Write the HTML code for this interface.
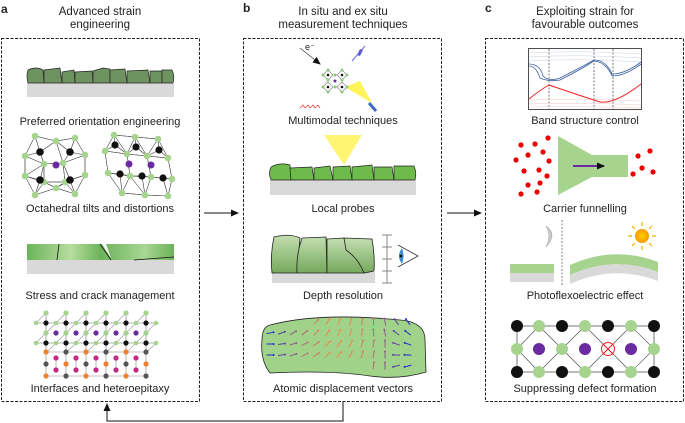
<!DOCTYPE html>
<html><head><meta charset="utf-8"><style>
html,body{margin:0;padding:0;background:#fff}
svg{display:block}
text{font-family:"Liberation Sans",Arial,sans-serif;fill:#222}
</style></head><body>
<svg id="s" width="685" height="423" viewBox="0 0 685 423" xmlns="http://www.w3.org/2000/svg">
<defs>
<marker id="ah" markerWidth="8" markerHeight="8" refX="7" refY="4" orient="auto" markerUnits="userSpaceOnUse"><path d="M0,0.5 L8,4 L0,7.5 Z" fill="#111"/></marker>
<linearGradient id="gcr" x1="0" x2="1"><stop offset="0" stop-color="#6cb35a"/><stop offset="0.3" stop-color="#b7dda0"/><stop offset="0.5" stop-color="#6cb35a"/><stop offset="0.8" stop-color="#a9d694"/><stop offset="1" stop-color="#6cb35a"/></linearGradient>
<linearGradient id="gd" x1="0" y1="0" x2="0" y2="1"><stop offset="0" stop-color="#c4deb0"/><stop offset="1" stop-color="#74a95d"/></linearGradient>
<radialGradient id="sun"><stop offset="0" stop-color="#ffd000"/><stop offset="1" stop-color="#f59a00"/></radialGradient>
</defs>
<g font-size="11.5" text-anchor="middle">
<text x="1" y="13" font-weight="bold" text-anchor="start" font-size="12">a</text>
<text x="100" y="15">Advanced strain</text><text x="100" y="28">engineering</text>
<text x="243" y="12" font-weight="bold" text-anchor="start" font-size="12">b</text>
<text x="343" y="15">In situ and ex situ</text><text x="343" y="28">measurement techniques</text>
<text x="485" y="12" font-weight="bold" text-anchor="start" font-size="12">c</text>
<text x="585" y="15">Exploiting strain for</text><text x="585" y="28">favourable outcomes</text>
</g>
<g fill="none" stroke="#222" stroke-width="1" stroke-dasharray="3,1.5">
<rect x="1.5" y="38.5" width="198" height="363"/>
<rect x="243.5" y="38.5" width="198" height="363"/>
<rect x="485.5" y="38.5" width="198" height="363"/>
</g>
<g stroke="#111" stroke-width="1" fill="none">
<line x1="204" y1="213" x2="238" y2="213" marker-end="url(#ah)"/>
<line x1="447" y1="213" x2="481" y2="213" marker-end="url(#ah)"/>
<polyline points="343,402 343,421 107,421 107,404" marker-end="url(#ah)"/>
</g>
<g font-size="11" text-anchor="middle">
<text x="100" y="125">Preferred orientation engineering</text>
<text x="100" y="212">Octahedral tilts and distortions</text>
<text x="100" y="299">Stress and crack management</text>
<text x="100" y="392">Interfaces and heteroepitaxy</text>
<text x="343" y="124">Multimodal techniques</text>
<text x="343" y="212">Local probes</text>
<text x="343" y="299">Depth resolution</text>
<text x="343" y="392">Atomic displacement vectors</text>
<text x="585" y="124">Band structure control</text>
<text x="585" y="212">Carrier funnelling</text>
<text x="585" y="299">Photoflexoelectric effect</text>
<text x="585" y="392">Suppressing defect formation</text>
</g>
<!-- a1 grains -->
<rect x="27" y="83" width="147" height="14" fill="#d9d9d9"/>
<g fill="#6f9360" stroke="#222" stroke-width="0.7">
<path d="M28,70 Q36,66 43,70 L44,83 L28,83 Q26,76 28,70Z"/><path d="M44,70 L60,68 L62,83 L44,83Z"/><path d="M62,72 L74,70 L75,83 L62,83Z"/><path d="M75,72 L92,71 L93,83 L75,83Z"/><path d="M93,71 L103,68 L110,69 L110,83 L93,83Z"/><path d="M110,70 L125,69 L127,83 L110,83Z"/><path d="M127,71 L148,70 L150,83 L127,83Z"/><path d="M150,71 L162,71 L162,83 L150,83Z"/><path d="M162,70 L172,70 Q175,76 173,83 L162,83Z"/>
</g>
<!-- a3 crack film -->
<rect x="27" y="260" width="147" height="14" fill="#d9d9d9"/>
<rect x="27" y="244" width="147" height="16" fill="url(#gcr)"/>
<path d="M59,244 L57,260 M100,244 L111,260 M134,260 L174,257" stroke="#111" stroke-width="0.8" fill="none"/>
<path d="M102,244 L106,244 L111,258Z" fill="#fff"/>
<!-- b2 -->
<path d="M324,135 L362,135 L344,165Z" fill="#fff35a" opacity="0.85"/>
<rect x="270" y="180" width="146" height="15" fill="#d9d9d9"/>
<g fill="#6dbb4a" stroke="#222" stroke-width="0.7">
<path d="M271,167 Q280,162 290,165 L291,180 L271,180 Q268,173 271,167Z"/><path d="M290,168 L312,167 L314,180 L291,180Z"/><path d="M314,168 L330,166 L333,180 L314,180Z"/><path d="M333,167 L350,166 L352,180 L333,180Z"/><path d="M352,167 L372,165 L374,180 L352,180Z"/><path d="M374,167 L392,167 L394,180 L374,180Z"/><path d="M394,166 L414,166 Q417,173 415,180 L394,180Z"/>
</g>
<!-- b3 depth -->
<rect x="272" y="272" width="103" height="11" fill="#d9d9d9"/>
<g fill="url(#gd)" stroke="#222" stroke-width="0.8">
<path d="M274,237 Q290,233 300,238 L297,273 L272,273 Q270,255 274,237Z"/><path d="M302,238 L326,237 L327,273 L297,273 Q296,255 302,238Z"/><path d="M327,239 L344,238 Q346,250 358,258 L364,273 L327,273Z"/><path d="M344,238 L372,239 Q375,256 374,271 L364,273 Q358,258 346,250Z"/>
</g>
<g stroke="#888" stroke-width="1"><line x1="387" y1="235" x2="387" y2="283"/><line x1="382" y1="235" x2="392" y2="235"/><line x1="382" y1="247" x2="392" y2="247"/><line x1="382" y1="259" x2="392" y2="259"/><line x1="382" y1="271" x2="392" y2="271"/><line x1="382" y1="283" x2="392" y2="283"/></g>
<path d="M398,245 L418,256 L398,267" fill="none" stroke="#333" stroke-width="0.8"/>
<path d="M402,248 Q396,256 402,264 Q405,256 402,248Z" fill="#3d8fd6"/><circle cx="401" cy="256" r="1.4" fill="#111"/>
<!-- b4 blob -->
<path d="M270,325 Q320,312 400,320 Q425,322 425,340 L426,372 Q400,380 370,376 Q330,370 270,373 Q260,360 262,340 Q262,327 270,325Z" fill="#a0d28a" stroke="#222" stroke-width="0.8"/>
<g id="vec"></g>
<!-- b1 multimodal -->
<line x1="300" y1="48" x2="320" y2="64" stroke="#333" stroke-width="0.7" marker-end="url(#ah)"/>
<text x="305" y="50" font-size="9">e⁻</text>
<line x1="365" y1="46" x2="352" y2="61" stroke="#6b6be0" stroke-width="1"/>
<path d="M363,50 l-3,-1 -3,6 3,1Z" fill="#5a5ad8"/>
<path d="M300,108 l3,-3 2,3 3,-3 2,3 3,-3 2,3 3,-3 2,3" fill="none" stroke="#e33" stroke-width="0.7"/>
<path d="M345,87 L360,81 L372,103 Z" fill="#fff35a"/>
<line x1="369" y1="103" x2="376" y2="111" stroke="#3a6cc0" stroke-width="3"/>
<g transform="translate(335,77)">
<g fill="none" stroke="#777" stroke-width="0.6"><path d="M-7,-7 l-5,5 5,5 5,-5Z M7,-7 l-5,5 5,5 5,-5Z M-7,5 l-5,5 5,5 5,-5Z M7,5 l-5,5 5,5 5,-5Z"/></g>
<g fill="#8cc978"><circle cx="-7" cy="-7" r="1.5"/><circle cx="7" cy="-7" r="1.5"/><circle cx="0" cy="-2" r="1.5"/><circle cx="-12" cy="-2" r="1.5"/><circle cx="12" cy="-2" r="1.5"/><circle cx="-7" cy="3" r="1.5"/><circle cx="7" cy="3" r="1.5"/><circle cx="0" cy="10" r="1.5"/><circle cx="-12" cy="10" r="1.5"/><circle cx="12" cy="10" r="1.5"/><circle cx="-7" cy="15" r="1.5"/><circle cx="7" cy="15" r="1.5"/></g>
<g fill="#111"><circle cx="-7" cy="-2" r="1.3"/><circle cx="7" cy="-2" r="1.3"/><circle cx="-7" cy="10" r="1.3"/><circle cx="7" cy="10" r="1.3"/></g>
<circle cx="0" cy="4" r="1.5" fill="#6a2aa0"/>
</g>
<!-- c1 band -->
<rect x="528.5" y="48.5" width="113" height="61" fill="#fff" stroke="#222" stroke-width="0.8"/>
<g fill="none" stroke="#222" stroke-width="0.6" stroke-dasharray="2,1.5"><line x1="549" y1="49" x2="549" y2="109"/><line x1="594" y1="49" x2="594" y2="109"/><line x1="613" y1="49" x2="613" y2="109"/></g>
<g fill="none" stroke="#c9d3e6" stroke-width="0.5"><path d="M529,53 Q580,50 641,54"/><path d="M529,57 Q580,54 641,58"/><path d="M529,61 Q580,58 641,62"/></g>
<g fill="none" stroke="#f5c8c8" stroke-width="0.5"><path d="M529,100 Q580,98 641,101"/><path d="M529,104 Q580,102 641,105"/><path d="M529,107 Q580,106 641,108"/></g>
<g fill="none" stroke="#3a5ea0" stroke-width="0.8"><path d="M529,64 Q540,64 543,76 Q549,82 560,78 Q580,68 594,60 Q606,60 612,74 Q625,74 641,62"/><path d="M529,66 Q536,66 540,78 Q549,82 560,80 Q580,70 594,61 Q606,62 612,76 Q625,76 641,64"/></g>
<path d="M529,99 Q540,90 549,85 Q575,94 600,102 Q615,104 641,84" fill="none" stroke="#e22" stroke-width="1"/>
<!-- c2 funnel -->
<path d="M558,136 L592,155 L628,155 L628,177 L592,177 L558,195Z" fill="#a6d48f"/>
<line x1="573" y1="166" x2="604" y2="166" stroke="#6a2aa0" stroke-width="2" marker-end="url(#ah)"/>
<g fill="#e00" id="dots"></g>
<!-- c3 -->
<path d="M546,226 Q558,234 546,247 Q552,236 546,226Z" fill="#ccc" stroke="#999" stroke-width="0.5"/>
<line x1="562" y1="220" x2="562" y2="286" stroke="#333" stroke-width="0.6" stroke-dasharray="2,1.5"/>
<rect x="510" y="264" width="44" height="9" fill="#a6d48f"/><rect x="510" y="273" width="44" height="9" fill="#d9d9d9"/>
<path d="M570,265 Q614,245 658,262 L658,272 Q614,255 570,275Z" fill="#a6d48f"/>
<path d="M570,275 Q614,255 658,272 L658,281 Q614,264 570,284Z" fill="#d9d9d9"/>
<g stroke="#f5b400" stroke-width="1.3" id="rays"></g>
<circle cx="642" cy="236" r="7" fill="url(#sun)"/>
<g id="lat"></g>
</svg>
<script>
var NS="http://www.w3.org/2000/svg";
function el(p,t,a){var e=document.createElementNS(NS,t);for(var k in a)e.setAttribute(k,a[k]);(typeof p=="string"?document.getElementById(p):p).appendChild(e);return e;}
var L=document.getElementById('lat');
function ln(x1,y1,x2,y2,c,w){el(L,'line',{x1:x1,y1:y1,x2:x2,y2:y2,stroke:c||'#333','stroke-width':w||0.6});}
function ci(x,y,r,f){el(L,'circle',{cx:x,cy:y,r:r,fill:f});}
var G='#a6d48f',K='#111',P='#6a2aa0';
// a2 octahedra
function oct(cx,cy,s){var pts=[[0,-1],[1,0],[0,1],[-1,0]];}
// left cluster
var gl=[[35,136],[56,141],[75,138],[25,156],[44,164],[63,163],[85,155],[25,176],[44,182],[65,182],[85,175],[35,195],[56,188],[75,194]];
var bl=[[40,152],[70,152],[40,180],[70,180]];
bl.forEach(function(b){gl.forEach(function(g){var d=Math.hypot(g[0]-b[0],g[1]-b[1]);if(d<22)ln(b[0],b[1],g[0],g[1]);});});
gl.forEach(function(a){gl.forEach(function(b){var d=Math.hypot(a[0]-b[0],a[1]-b[1]);if(d>0&&d<24)ln(a[0],a[1],b[0],b[1],'#444',0.5);});});
gl.forEach(function(g){ci(g[0],g[1],3.3,G)});bl.forEach(function(b){ci(b[0],b[1],3.8,K)});ci(56,165,3.5,P);
var gr=[[114,135],[135,137],[158,139],[105,151],[127,154],[147,156],[168,158],[108,173],[130,176],[151,177],[172,179],[122,193],[145,195],[168,196]];
var br=[[115,145],[136,147],[159,150],[120,174],[142,176],[163,178]];
br.forEach(function(b){gr.forEach(function(g){var d=Math.hypot(g[0]-b[0],g[1]-b[1]);if(d<20)ln(b[0],b[1],g[0],g[1]);});});
gr.forEach(function(a){gr.forEach(function(b){var d=Math.hypot(a[0]-b[0],a[1]-b[1]);if(d>0&&d<25)ln(a[0],a[1],b[0],b[1],'#444',0.5);});});
gr.forEach(function(g){ci(g[0],g[1],3.3,G)});br.forEach(function(b){ci(b[0],b[1],3.6,K)});ci(129,164,3.5,P);ci(151,165,3.5,P);
// a4 interface
var xs=[46,66,86,106,126,146];
for(var i=0;i<6;i++){var x=xs[i];
 [[x,313],[x-10,323],[x+10,323],[x,333]].forEach(function(p,j,a){ln(p[0],p[1],a[(j+1)%4][0],a[(j+1)%4][1],'#999',0.6);});
 [[x,333],[x-10,343],[x+10,343],[x,353]].forEach(function(p,j,a){ln(p[0],p[1],a[(j+1)%4][0],a[(j+1)%4][1],'#999',0.6);});}
ln(36,323,156,323,'#999',0.6);ln(36,343,156,343,'#999',0.6);
for(var i=0;i<6;i++){var x=xs[i];ln(x,313,x,353,'#999',0.6);}
ln(46,352,146,352,'#888',0.6);ln(46,376,146,376,'#888',0.6);
for(var i=0;i<6;i++){var x=xs[i];ln(x,352,x,376,'#888',0.6);ci(x,313,2.6,G);ci(x,333,2.6,G);ci(x,323,2.6,K);ci(x,343,2.6,K);ci(x-10,323,2.3,G);ci(x-10,343,2.3,G);}
ci(156,323,2.3,G);ci(156,343,2.3,G);
for(var i=0;i<5;i++){ci(xs[i]+10,333,2.6,P);ln(xs[i]+10,358,xs[i]+10,370,'#888',0.6);ci(xs[i]+10,358,2.6,'#c22a86');ci(xs[i]+10,370,2.6,'#c22a86');}
var oc='#f08030',dg='#555';
for(var i=0;i<6;i++){var x=xs[i];ci(x,352,2.6,i%2?dg:oc);ci(x,364,2.6,i%2?oc:dg);ci(x,376,2.6,i%2?dg:oc);}
// c4 lattice
var cx=[517,539,562,585,608,631,654];
ln(517,326,654,326,'#777',1);ln(517,372,654,372,'#777',1);ln(517,326,517,372,'#777',1);ln(654,326,654,372,'#777',1);
for(var i=0;i<7;i+=2){if(i+2<7){ln(cx[i+1],326,cx[i+2]+0,349,'#444',0.6);ln(cx[i+1],326,cx[i],349,'#444',0.6);ln(cx[i+1],372,cx[i+2],349,'#444',0.6);ln(cx[i+1],372,cx[i],349,'#444',0.6);}}
for(var i=0;i<7;i++){var f=i%2?G:K;ci(cx[i],326,6,f);ci(cx[i],372,6,f);}
for(var i=0;i<7;i+=2){ if(i==4){el(L,'circle',{cx:608,cy:349,r:6.5,fill:'none',stroke:'#e22','stroke-width':1});ln(603,344,613,354,'#e22',1);ln(613,344,603,354,'#e22',1);} else ci(cx[i],349,6,G);}
[1,3,5].forEach(function(i){ci(cx[i],349,6,P)});
// red dots
[[521,145],[535,144],[548,138],[528,155],[543,152],[516,160],[549,161],[524,171],[539,170],[547,176],[528,185],[540,183],[521,194],[537,192],[633,174],[642,168],[638,156],[650,151],[653,172]].forEach(function(p){el('dots','circle',{cx:p[0],cy:p[1],r:2.6});});
for(var a=0;a<8;a++){var t=a*Math.PI/4;el('rays','line',{x1:642+10*Math.cos(t),y1:236+10*Math.sin(t),x2:642+14*Math.cos(t),y2:236+14*Math.sin(t)});}
// vectors
for(var r=0;r<5;r++)for(var c=0;c<13;c++){var x=270+c*11.5,y=322+r*11;if(r==0&&c<4)continue;if(r==4&&c<9)continue;
 var t=c/12;var col='rgb('+Math.round(40+200*Math.sin(t*Math.PI))+','+Math.round(40+100*Math.sin(t*Math.PI))+','+Math.round(200-120*Math.sin(t*Math.PI))+')';
 var ang=-t*Math.PI*0.6-(r<2?0.2:0);if(c>10)ang=-Math.PI*0.7-(r*0.3);
 var dx=7*Math.cos(ang),dy=7*Math.sin(ang);
 el('vec','line',{x1:x-dx/2,y1:y-dy/2,x2:x+dx/2,y2:y+dy/2,stroke:col,'stroke-width':1});
 el('vec','circle',{cx:x+dx/2,cy:y+dy/2,r:1,fill:col});}
</script>
</body></html>
